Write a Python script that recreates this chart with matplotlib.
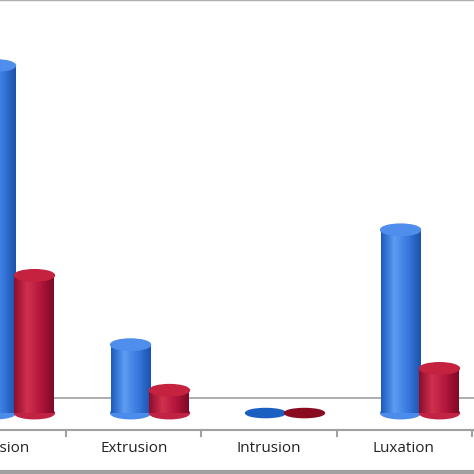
import numpy as np
import matplotlib.pyplot as plt
from matplotlib.patches import Ellipse
from matplotlib.colors import LinearSegmentedColormap

categories = ['Avulsion', 'Extrusion', 'Intrusion', 'Luxation']
blue_vals = [36.6, 7.2, 0.0, 19.3]
red_vals = [14.5, 2.4, 0.0, 4.7]

fig = plt.figure(figsize=(4.74, 4.74), dpi=100)
ax = fig.add_axes([0, 0, 1, 1])
ax.set_xlim(-0.111, 3.4)
ax.set_ylim(-6.42, 43.5)
ax.axis('off')

w = 0.296
eh = 1.2
blue_cmap = LinearSegmentedColormap.from_list('b', ['#1f5bbf', '#5c9cf2', '#3a7ae0', '#1c52ad'])
red_cmap = LinearSegmentedColormap.from_list('r', ['#8e0e2c', '#d0304e', '#b3163c', '#7e0a25'])
grad = np.linspace(0, 1, 64).reshape(1, -1)

# floor line
ax.axhline(1.58, color='#a0a0a0', lw=1.2, zorder=0)

for i, cat in enumerate(categories):
    for off, v, cmap, top, flat in [(-0.144, blue_vals[i], blue_cmap, '#4f8eec', '#1b5fc0'),
                                    (0.144, red_vals[i], red_cmap, '#c4223f', '#8a0a20')]:
        x = i + off
        if v <= 0:
            ax.add_patch(Ellipse((x, 0), w, eh * 0.8, color=flat, zorder=3))
            continue
        bar = ax.bar(x, v, w, bottom=0, color='none', zorder=2)[0]
        im = ax.imshow(grad, cmap=cmap, aspect='auto', zorder=2,
                       extent=[x - w / 2, x + w / 2, 0, v])
        im.set_clip_path(bar)
        ax.add_patch(Ellipse((x, 0), w, eh, color=cmap(0.5), zorder=1.9))
        ax.add_patch(Ellipse((x, v), w, eh, color=top, zorder=3))

# category axis
ax.axhline(-1.79, color='#a0a0a0', lw=1.5)
for t in [0.378, 1.378, 2.385, 3.385]:
    ax.plot([t, t], [-1.79, -2.4], color='#a0a0a0', lw=1.5)
for i, cat in enumerate(categories):
    ax.text(i - 0.12, -3.7, cat, ha='center', va='center', fontsize=11,
            family='Open Sans', color='#222222')

ax.axhline(-6.2, color='#a0a0a0', lw=3)
ax.axhline(43.45, color='#b0b0b0', lw=1)

fig.savefig('out.png', dpi=100)
